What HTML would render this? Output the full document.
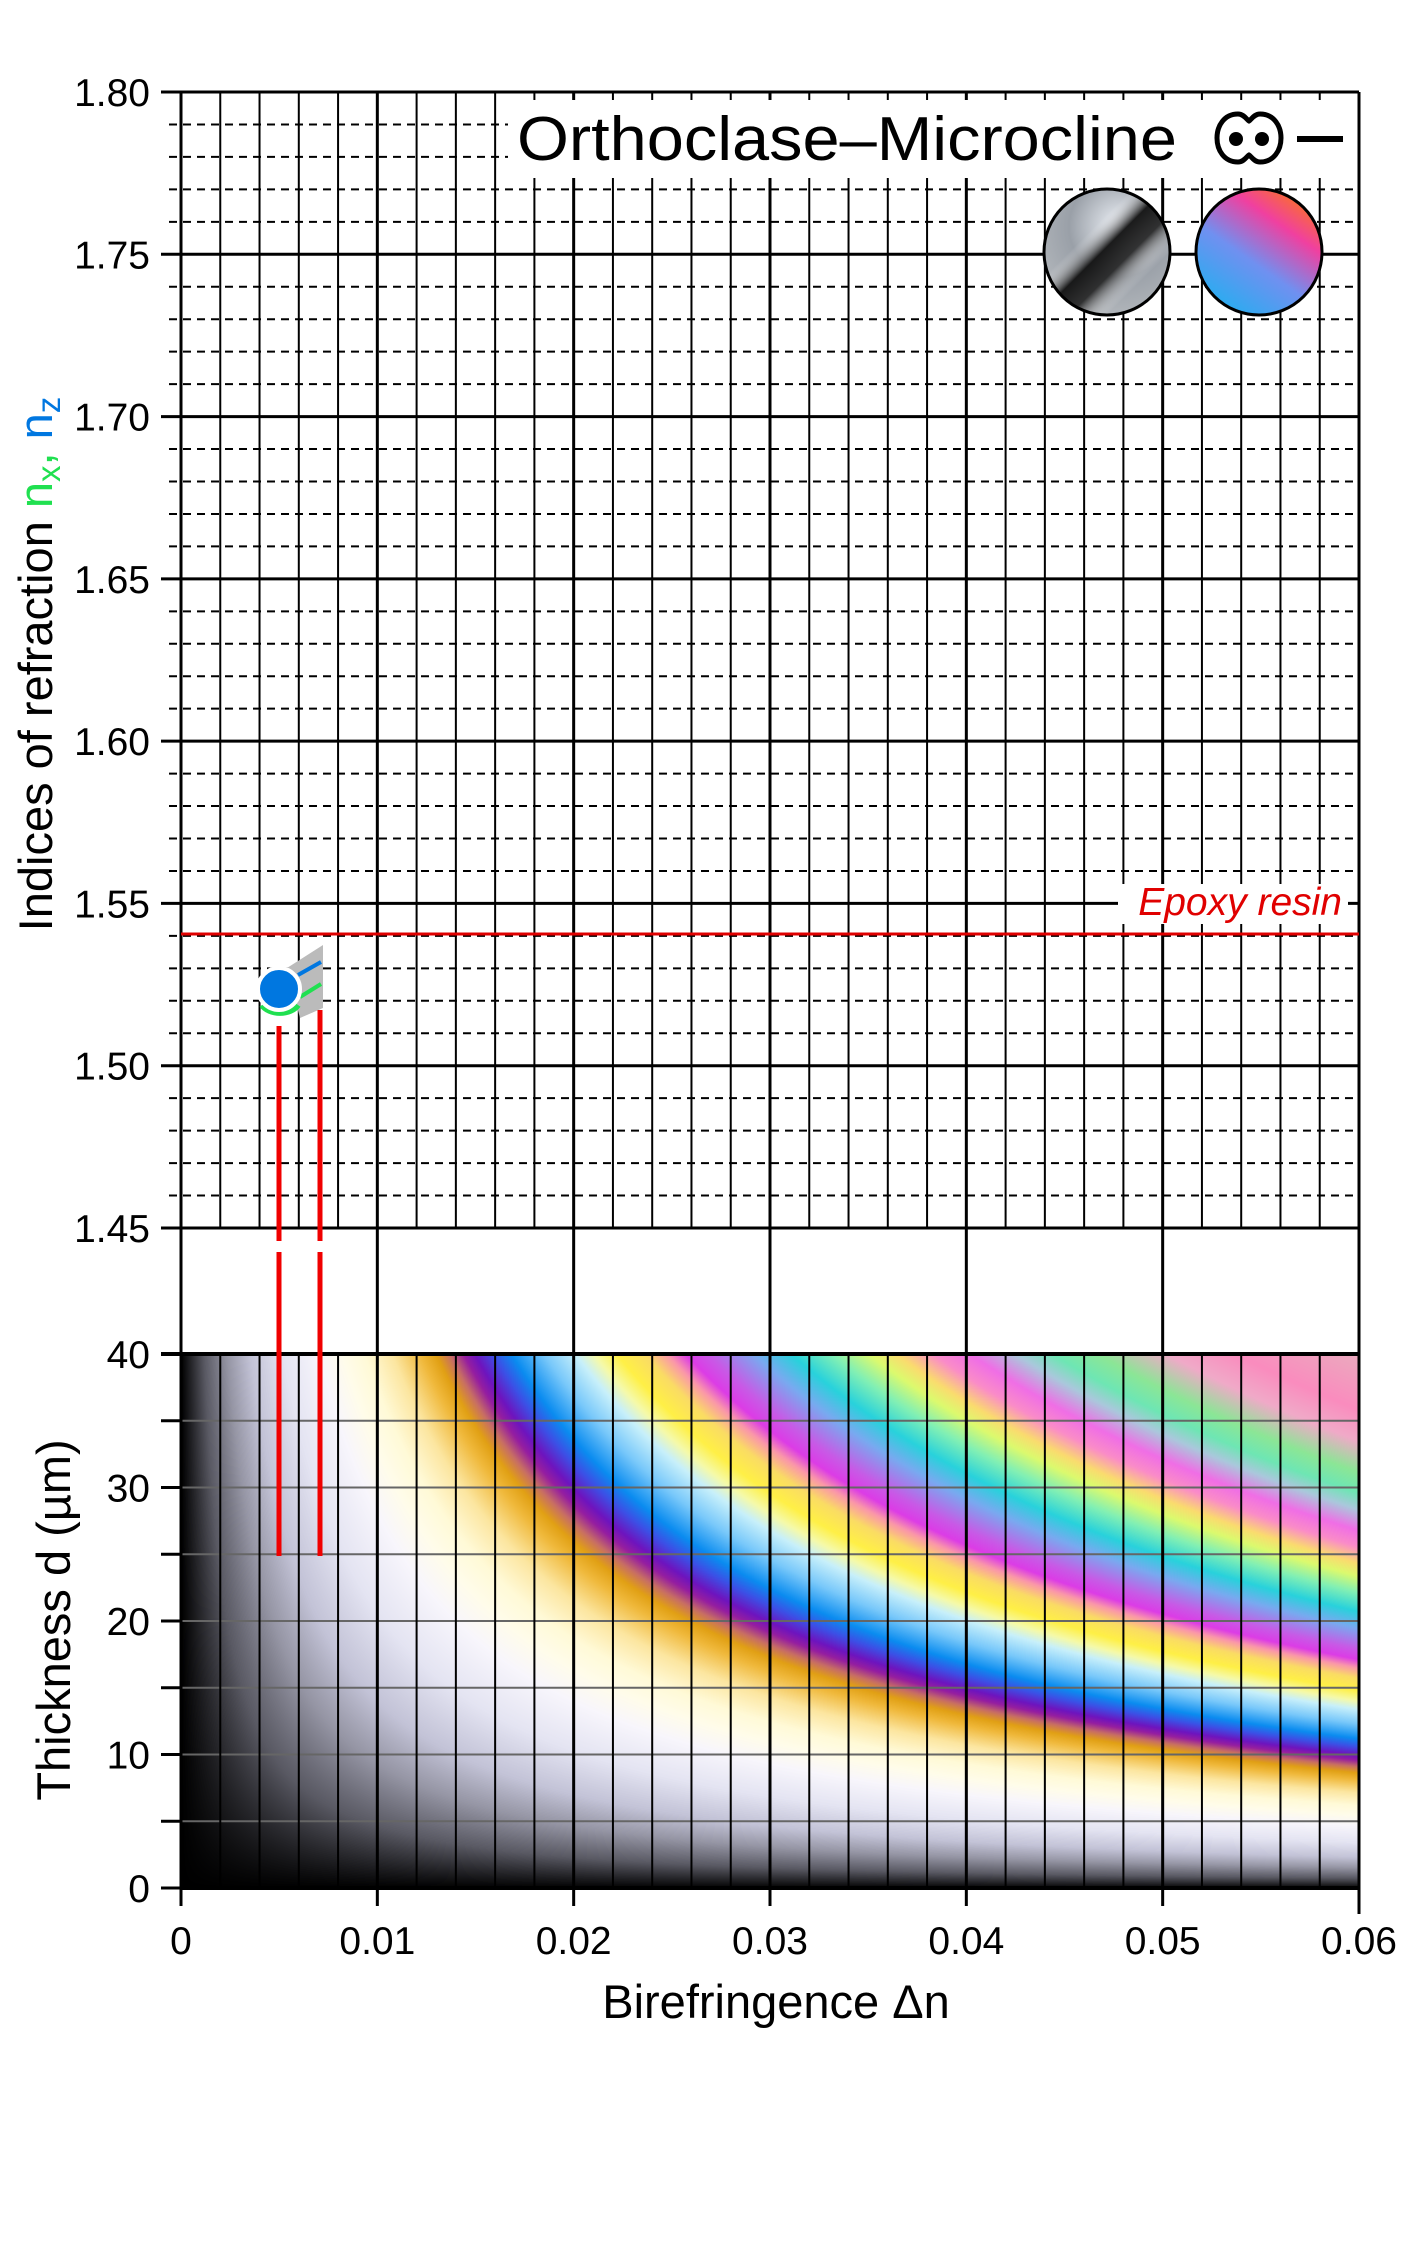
<!DOCTYPE html>
<html><head><meta charset="utf-8"><style>
html,body{margin:0;padding:0;background:#fff;width:1417px;height:2244px;overflow:hidden}
#c{position:absolute;left:181px;top:1354px}
svg{position:absolute;left:0;top:0}
text{font-family:"Liberation Sans",Arial,sans-serif}
</style></head><body>
<canvas id="c" width="1178" height="534"></canvas>
<svg id="s" width="1417" height="2244" xmlns="http://www.w3.org/2000/svg">
<defs>
<radialGradient id="g1" cx="0.6" cy="0.3" r="0.8">
<stop offset="0" stop-color="#eef2f8"/><stop offset="0.5" stop-color="#9aa0a8"/><stop offset="1" stop-color="#b8bcc0"/></radialGradient>
<linearGradient id="band" x1="0" y1="0" x2="1" y2="1">
<stop offset="0" stop-color="#fff" stop-opacity="0"/><stop offset="0.35" stop-color="#fff" stop-opacity="0"/>
<stop offset="0.48" stop-color="#111" stop-opacity="0.95"/><stop offset="0.6" stop-color="#222" stop-opacity="0.9"/>
<stop offset="0.75" stop-color="#fff" stop-opacity="0"/></linearGradient>
<linearGradient id="g2" x1="0.2" y1="1" x2="0.9" y2="0">
<stop offset="0" stop-color="#20b0f0"/><stop offset="0.4" stop-color="#7090f0"/><stop offset="0.7" stop-color="#f040a0"/><stop offset="1" stop-color="#ff8000"/></linearGradient>
</defs>
<g id="grid"></g>
<!-- title -->
<rect x="508" y="100" width="846" height="78" fill="#fff"/>
<text x="517" y="160" font-size="62" textLength="660" lengthAdjust="spacingAndGlyphs">Orthoclase–Microcline</text>
<path d="M1238,114 C1210,114 1210,162 1238,162 C1244,162 1247,156 1249,155 C1251,156 1254,162 1260,162 C1288,162 1288,114 1260,114 C1254,114 1251,120 1249,121 C1247,120 1244,114 1238,114 Z" fill="#fff" stroke="#000" stroke-width="5"/>
<circle cx="1236" cy="139" r="7"/><circle cx="1262" cy="139" r="7"/>
<rect x="1297" y="136" width="46" height="6"/>
<circle cx="1107" cy="252" r="63" fill="url(#g1)"/>
<circle cx="1107" cy="252" r="63" fill="url(#band)" stroke="#000" stroke-width="3"/>
<circle cx="1259" cy="252" r="63" fill="url(#g2)" stroke="#000" stroke-width="3"/>
<!-- epoxy -->
<rect x="1118" y="884" width="230" height="40" fill="#fff"/>
<text x="1342" y="915" font-size="39" font-style="italic" fill="#e00000" text-anchor="end">Epoxy resin</text>
<line x1="181" y1="934" x2="1359" y2="934" stroke="#e00000" stroke-width="3"/>
<!-- data -->
<polygon points="287,968 323,945 323,1008 300,1018" fill="#bbb"/>
<line x1="298" y1="975" x2="321" y2="962" stroke="#0077e0" stroke-width="4"/>
<line x1="300" y1="997" x2="321" y2="984" stroke="#20e050" stroke-width="4"/>
<path d="M262,1005 A20,14 0 0 0 298,1005" fill="none" stroke="#20e050" stroke-width="6"/>
<circle cx="279" cy="989" r="21" fill="#0077e0" stroke="#fff" stroke-width="4"/>
<g stroke="#f00000" stroke-width="5">
<line x1="279" y1="1026" x2="279" y2="1241"/><line x1="279" y1="1252" x2="279" y2="1556"/>
<line x1="320" y1="1010" x2="320" y2="1241"/><line x1="320" y1="1252" x2="320" y2="1556"/>
</g>
<g font-size="39" text-anchor="end" id="yl"></g>
<g font-size="39" text-anchor="middle" id="xl"></g>
<text x="776" y="2018" font-size="47" text-anchor="middle">Birefringence  Δn</text>
<text transform="translate(52,664) rotate(-90)" font-size="47" text-anchor="middle">Indices of refraction <tspan fill="#20e050">n<tspan font-size="33" dy="8">x</tspan><tspan dy="-8">,</tspan></tspan> <tspan fill="#0077e0">n<tspan font-size="33" dy="8">z</tspan></tspan></text>
<text transform="translate(70,1620) rotate(-90)" font-size="47" text-anchor="middle">Thickness  d (µm)</text>
</svg>
<script>
var X0=181,X1=1359,YT=92,YB=1228,B0=1354,B1=1888;
var s='';
function L(a,b,c,d,w,col,da){s+='<line x1="'+a+'" y1="'+b+'" x2="'+c+'" y2="'+d+'" stroke="'+(col||'#000')+'" stroke-width="'+w+'"'+(da?' stroke-dasharray="'+da+'"':'')+'/>';}
function yn(n){return YT+(1.80-n)*(YB-YT)/0.35;}
for(var i=0;i<=35;i++){var n=1.80-i*0.01,y=yn(n);if(i%5==0){L(X0-20,y,X1,y,3);}else{L(X0-12,y,X1,y,2,'#000','8,6');}}
for(var i=0;i<=30;i++){var x=X0+i*(X1-X0)/30;L(x,YT,x,YB,(i%5==0)?3:2);}
for(var i=0;i<=6;i++){var x=X0+i*(X1-X0)/6;L(x,YB,x,B0,3);}
var hs='';
for(var i=1;i<8;i++){var y=B0+i*(B1-B0)/8;hs+='<line x1="'+(X0-20)+'" y1="'+y+'" x2="'+X0+'" y2="'+y+'" stroke="#000" stroke-width="3"/><line x1="'+X0+'" y1="'+y+'" x2="'+X1+'" y2="'+y+'" stroke="#666" stroke-width="2"/>';}
var vs='';
for(var i=0;i<=30;i++){var x=X0+i*(X1-X0)/30;vs+='<line x1="'+x+'" y1="'+B0+'" x2="'+x+'" y2="'+B1+'" stroke="#000" stroke-width="'+((i%5==0)?3:2)+'"/>';}
for(var i=0;i<=6;i++){var x=X0+i*(X1-X0)/6;vs+='<line x1="'+x+'" y1="'+B1+'" x2="'+x+'" y2="'+(B1+(i==6?26:18))+'" stroke="#000" stroke-width="3"/>';}
vs+='<line x1="'+(X0-20)+'" y1="'+B0+'" x2="'+X1+'" y2="'+B0+'" stroke="#000" stroke-width="4"/><line x1="'+X0+'" y1="'+B1+'" x2="'+X1+'" y2="'+B1+'" stroke="#000" stroke-width="4"/>';
vs+='<line x1="'+(X0-20)+'" y1="'+B1+'" x2="'+X0+'" y2="'+B1+'" stroke="#000" stroke-width="3"/>';
document.getElementById('grid').innerHTML=s;
var bg=document.createElementNS('http://www.w3.org/2000/svg','g');bg.innerHTML=hs+vs;
document.getElementById('s').insertBefore(bg,document.getElementById('grid').nextSibling);
var yl='';['1.80','1.75','1.70','1.65','1.60','1.55','1.50','1.45'].forEach(function(t,i){yl+='<text x="150" y="'+(yn(1.80-i*0.05)+14)+'">'+t+'</text>';});
for(var i=0;i<=4;i++){yl+='<text x="150" y="'+(B0+i*(B1-B0)/4+14)+'">'+(40-10*i)+'</text>';}
document.getElementById('yl').innerHTML=yl;
var xl='';['0','0.01','0.02','0.03','0.04','0.05','0.06'].forEach(function(t,i){xl+='<text x="'+(X0+i*(X1-X0)/6)+'" y="1954">'+t+'</text>';});
document.getElementById('xl').innerHTML=xl;
var st=[[0,0,0,0],[50,90,90,100],[100,150,150,165],[150,195,195,215],[220,228,228,242],[300,248,246,252],[350,255,252,235],[400,255,250,215],[460,252,230,160],[520,240,185,60],[555,225,160,20],[585,200,110,100],[615,150,30,160],[640,110,20,190],[680,60,80,230],[720,10,140,240],[790,120,200,250],[860,200,240,250],[900,245,250,170],[950,255,240,70],[1010,250,220,100],[1060,250,150,170],[1100,220,60,230],[1150,200,90,230],[1250,120,170,240],[1330,40,210,220],[1420,130,240,180],[1500,220,250,110],[1560,250,220,110],[1640,250,140,200],[1720,240,110,230],[1820,170,200,220],[1900,110,230,180],[2000,140,230,150],[2150,240,170,200],[2300,250,140,190],[2650,230,180,190]];
function col(R){for(var k=1;k<st.length;k++){if(R<=st[k][0]){var a=st[k-1],b=st[k],t=(R-a[0])/(b[0]-a[0]);return[a[1]+(b[1]-a[1])*t,a[2]+(b[2]-a[2])*t,a[3]+(b[3]-a[3])*t];}}var l=st[st.length-1];return[l[1],l[2],l[3]];}
var c=document.getElementById('c'),ctx=c.getContext('2d'),W=c.width,H=c.height,im=ctx.createImageData(W,H),d=im.data;
for(var y=0;y<H;y++){var th=40*(1-y/H);for(var x=0;x<W;x++){var dn=0.06*x/W;var k=col(th*dn*1000*1.07),p=(y*W+x)*4;d[p]=k[0];d[p+1]=k[1];d[p+2]=k[2];d[p+3]=255;}}
ctx.putImageData(im,0,0);
</script>
</body></html>
